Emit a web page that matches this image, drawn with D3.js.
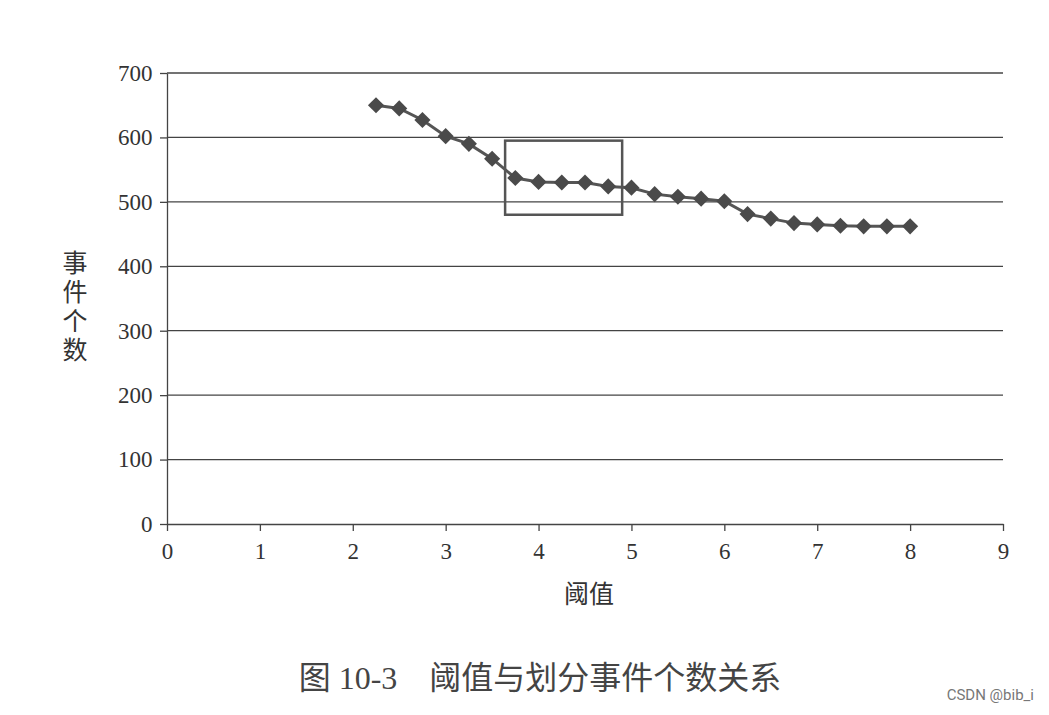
<!DOCTYPE html>
<html><head><meta charset="utf-8">
<script src="https://cdn.jsdelivr.net/npm/d3@7"></script>
<style>body{margin:0;background:#fff}</style>
</head><body>
<svg id="c" width="1049" height="715"></svg>
<script>
// threshold vs number of events
const thresholds = d3.range(24).map(i => 2.25 + i * 0.25)
const eventCounts = [650, 645, 627, 602, 590, 567, 537, 531, 530, 530, 524, 522,
  512, 508, 505, 501, 481, 474, 467, 465, 463, 462, 462, 462]
const xTicks = [0, 1, 2, 3, 4, 5, 6, 7, 8, 9]
const yTicks = [0, 100, 200, 300, 400, 500, 600, 700]
const boxX = [3.64, 4.9], boxY = [480, 595]

const svg = d3.select('#c')
const x = d3.scaleLinear().domain([0, 9]).range([167, 1003])
const y = d3.scaleLinear().domain([0, 700]).range([524, 73])
const serif = '"Liberation Serif", "Noto Sans CJK SC", serif'
const ink = '#444'

svg.append('g').selectAll('line').data(yTicks.slice(1)).join('line')
  .attr('x1', x(0)).attr('x2', x(9)).attr('y1', y).attr('y2', y)
  .attr('stroke', ink).attr('stroke-width', 1.3)

const ax = svg.append('g').attr('transform', `translate(0,${y(0)})`)
  .call(d3.axisBottom(x).tickValues(xTicks).tickSize(7).tickSizeOuter(0))
const ay = svg.append('g').attr('transform', `translate(${x(0)},0)`)
  .call(d3.axisLeft(y).tickValues(yTicks).tickSize(7).tickSizeOuter(0))
for (const a of [ax, ay]) {
  a.selectAll('path,line').attr('stroke', ink).attr('stroke-width', 1.3)
  a.selectAll('text').attr('font-family', serif).attr('font-size', 23).attr('fill', '#333')
}
ax.selectAll('text').attr('dy', '1.1em')
ay.selectAll('text').attr('dx', '-0.2em')

svg.append('path').datum(thresholds.map((t, i) => [t, eventCounts[i]]))
  .attr('d', d3.line().x(d => x(d[0])).y(d => y(d[1])))
  .attr('fill', 'none').attr('stroke', '#555').attr('stroke-width', 3)
svg.append('g').selectAll('path').data(thresholds).join('path')
  .attr('transform', (t, i) => `translate(${x(t)},${y(eventCounts[i])}) rotate(45)`)
  .attr('d', d3.symbol(d3.symbolSquare, 130))
  .attr('fill', '#4a4a4a')

svg.append('rect').attr('x', x(boxX[0])).attr('y', y(boxY[1]))
  .attr('width', x(boxX[1]) - x(boxX[0])).attr('height', y(boxY[0]) - y(boxY[1]))
  .attr('fill', 'none').attr('stroke', '#555').attr('stroke-width', 2.5)

svg.append('g').selectAll('text').data(['事', '件', '个', '数']).join('text')
  .attr('x', 75).attr('y', (d, i) => 272 + i * 29).attr('text-anchor', 'middle')
  .attr('font-family', serif).attr('font-size', 25).attr('fill', '#333').text(d => d)
svg.append('text').attr('x', 589).attr('y', 603).attr('text-anchor', 'middle')
  .attr('font-family', serif).attr('font-size', 25).attr('fill', '#333').text('阈值')
svg.append('text').attr('x', 540).attr('y', 689).attr('text-anchor', 'middle')
  .attr('font-family', serif).attr('font-size', 32).attr('fill', '#444')
  .attr('xml:space', 'preserve').text('图 10-3    阈值与划分事件个数关系')
svg.append('text').attr('x', 1034).attr('y', 700).attr('text-anchor', 'end')
  .attr('font-family', 'Roboto, sans-serif').attr('font-size', 15).attr('fill', '#777').text('CSDN @bib_i')
</script>
</body></html>
